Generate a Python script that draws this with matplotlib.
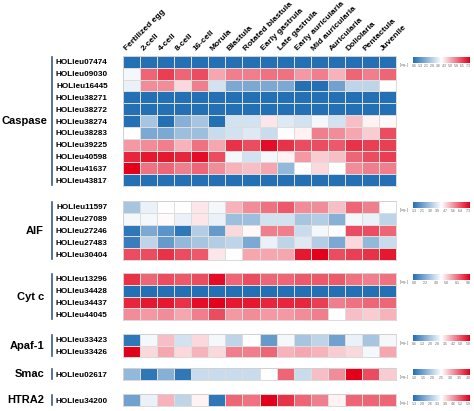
import matplotlib
matplotlib.use("Agg")
import matplotlib.pyplot as plt
import numpy as np
from matplotlib.colors import LinearSegmentedColormap

plt.rcParams['font.family'] = ['Liberation Sans', 'DejaVu Sans']

stages = ["Fertilized egg", "2-cell", "4-cell", "8-cell", "16-cell", "Morula", "Blastula",
          "Rotated blastula", "Early gastrula", "Late gastrula", "Early auricularia",
          "Mid auricularia", "Auricularia", "Doliolaria", "Pentactula", "Juvenile"]

caspase_genes = ["HOLleu07474", "HOLleu09030", "HOLleu16445", "HOLleu38271", "HOLleu38272",
                 "HOLleu38274", "HOLleu38283", "HOLleu39225", "HOLleu40598", "HOLleu41637", "HOLleu43817"]
caspase_vals = [
    [-1]*16,
    [-0.05,0.6,0.75,0.6,0.7,0.35,0.5,0.5,0.55,0.55,0.4,0.5,0.3,0.6,0.5,0.6],
    [-0.1,0.45,0.45,0.15,0.5,-0.2,-0.6,-0.6,-0.6,-0.6,-1,-1,-0.65,-0.3,-0.3,0],
    [-1]*16,
    [-1]*16,
    [-1,-0.4,-1,-0.55,-0.4,-1,-0.2,-0.2,0.1,-0.15,-0.2,-0.05,-0.2,0.25,0.05,0.03],
    [0,-0.6,-0.6,-0.45,-0.45,-0.25,-0.2,-0.15,-0.25,0,0.05,0.5,0.45,0.35,0.2,0.7],
    [0.4,0.45,0.5,0.3,0.55,0.35,0.8,0.7,0.95,0.8,0.7,0.7,0.65,0.8,0.75,0.75],
    [0.85,0.9,0.9,0.85,0.95,0.7,-0.05,-0.2,-0.05,0.05,0.4,0.2,0.25,0.6,0.7,0.75],
    [1,0.55,0.6,0.5,0.6,0.45,0.3,0.25,0.35,-0.5,0,0.15,0,0.45,0.5,0.5],
    [-1]*16,
]
aif_genes = ["HOLleu11597", "HOLleu27089", "HOLleu27246", "HOLleu27483", "HOLleu30404"]
aif_vals = [
    [-0.4,-0.1,0,0,0.1,-0.05,0.3,0.45,0.55,0.65,0.45,0.45,0.25,0.6,0.5,0],
    [-0.05,-0.05,0.02,-0.1,0.1,-0.1,-0.45,-0.45,-0.2,-0.2,-0.4,-0.35,-0.55,-0.05,-0.1,-0.3],
    [-0.95,-0.6,-0.75,-0.95,-0.35,-0.7,0.15,0.03,0.5,0.5,-0.25,-0.05,0,0.7,0.7,0.6],
    [-0.9,-0.3,-0.7,-0.5,-0.4,-0.35,-0.3,-0.6,-0.1,-0.3,-0.15,-0.35,-0.6,0.15,-0.5,-0.25],
    [0.7,0.7,0.8,0.7,0.65,0.1,0,0.35,0.35,0.35,0.9,1,0.7,0.75,0.8,0.9],
]
cytc_genes = ["HOLleu13296", "HOLleu34428", "HOLleu34437", "HOLleu44045"]
cytc_vals = [
    [0.8,0.6,0.7,0.65,0.7,0.95,0.6,0.7,0.6,0.6,0.65,0.65,0.65,0.55,0.5,0.55],
    [-1]*16,
    [0.85,0.9,0.9,0.8,0.95,1,0.9,0.9,0.85,0.85,0.85,0.75,0.5,0.55,0.6,0.6],
    [0.45,0.4,0.45,0.35,0.5,0.7,0.4,0.45,0.4,0.4,0.45,0.5,0,0.25,0.2,0.3],
]
apaf_genes = ["HOLleu33423", "HOLleu33426"]
apaf_vals = [
    [-0.95,-0.05,0.25,-0.2,0.15,-0.05,-0.3,0,-0.7,-0.05,-0.4,-0.3,-0.65,-0.1,-0.4,-0.05],
    [1,0.15,0.35,0.15,0.3,0.15,0.5,0.5,0.6,0.3,0.35,0.3,0.2,0.15,-0.05,0.35],
]
smac_genes = ["HOLleu02617"]
smac_vals = [[-0.5,-0.95,-0.55,-0.95,-0.25,-0.25,-0.25,-0.25,0,0.6,-0.25,0.25,0.45,1,0.7,0.2]]
htra_genes = ["HOLleu34200"]
htra_vals = [[-0.65,-0.1,0.3,-0.3,0.05,-0.95,0.6,0.55,1,0.8,0.6,0.5,0.05,0.6,0.6,0.6]]

cbar_ticks = {
    "Caspase": ["0.6","1.3","2.1","2.8","3.6","4.3","5.0","5.8","6.5","7.3"],
    "AIF": ["1.3","2.1","3.0","3.9","4.7","5.6","6.4","7.3"],
    "Cyt c": ["0.8","2.2","4.0","5.8","8.1","9.8"],
    "Apaf-1": ["0.6","1.3","2.0","2.8","3.5","4.2","5.0","5.8"],
    "Smac": ["1.0","1.5","2.0","2.5","3.0","3.5","4.0"],
    "HTRA2": ["1.3","2.0","2.6","3.3","3.9","4.6","5.2","5.9"],
}

groups = [("Caspase", caspase_genes, caspase_vals, 56, 186),
          ("AIF", aif_genes, aif_vals, 201, 260),
          ("Cyt c", cytc_genes, cytc_vals, 273, 320),
          ("Apaf-1", apaf_genes, apaf_vals, 334, 357),
          ("Smac", smac_genes, smac_vals, 368, 380),
          ("HTRA2", htra_genes, htra_vals, 394, 406)]

cmap = LinearSegmentedColormap.from_list("bwr2", ["#2470b5", "#ffffff", "#e3001b"])
W, H = 474, 411
fig = plt.figure(figsize=(W/100, H/100), dpi=100)
x0, x1 = 123, 396

for gi, (name, genes, vals, ytop, ybot) in enumerate(groups):
    ax = fig.add_axes([x0/W, 1-ybot/H, (x1-x0)/W, (ybot-ytop)/H])
    arr = np.array(vals)
    ax.pcolormesh(arr, cmap=cmap, vmin=-1, vmax=1, edgecolors="#dddddd", linewidth=0.4)
    ax.set_xlim(0, 16); ax.set_ylim(len(genes), 0)
    ax.set_xticks([]); ax.set_yticks(np.arange(len(genes))+0.5)
    ax.set_yticklabels(genes, fontsize=5.9, fontweight="bold")
    ax.tick_params(axis="y", length=0, pad=11)
    for s in ax.spines.values():
        s.set_color("#cccccc"); s.set_linewidth(0.5)
    if gi == 0:
        for i, st in enumerate(stages):
            ax.text(i+0.3, -0.3, st, rotation=45, ha="left", va="bottom",
                    fontsize=6.0, fontweight="bold", rotation_mode="anchor")
    yl0 = 1-(ytop+1)/H; yl1 = 1-(ybot-1)/H
    fig.add_artist(plt.Line2D([52/W, 52/W], [yl1, yl0], color="#3a5a8a", lw=1.2))
    if name == "Caspase":
        fig.text(1/W, 1-((ytop+ybot)/2)/H, name, ha="left", va="center",
                 fontsize=8, fontweight="bold")
    else:
        fig.text(44/W, 1-((ytop+ybot)/2)/H, name, ha="right", va="center",
                 fontsize=8, fontweight="bold")
    cax = fig.add_axes([413/W, 1-(ytop+7)/H, 57/W, 6/H])
    cax.imshow(np.linspace(-1, 1, 200)[None, :], cmap=cmap, aspect="auto",
               extent=[0, 1, 0, 1])
    labs = cbar_ticks[name]
    cax.set_xticks(np.linspace(0.03, 0.97, len(labs)))
    cax.set_xticklabels(labs, fontsize=2.5, color="#666666")
    cax.tick_params(length=0, pad=1)
    cax.set_yticks([])
    for s in cax.spines.values():
        s.set_visible(False)
    fig.text(399/W, 1-(ytop+10)/H, "[log$_2$]", fontsize=2.5, color="#666666")

fig.savefig("out.png", dpi=100)
